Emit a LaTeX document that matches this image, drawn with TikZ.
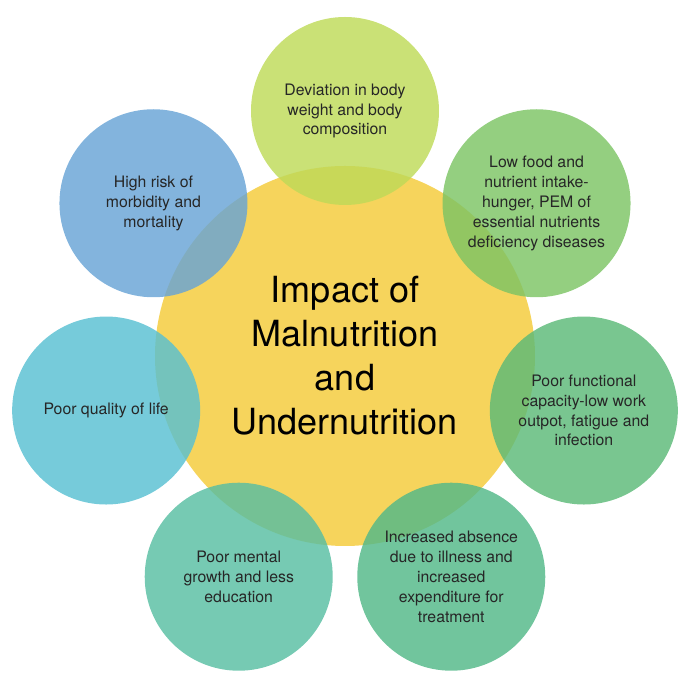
\documentclass[tikz,border=0pt]{standalone}
\usepackage{fontspec}
\setmainfont{TeX Gyre Heros}
\usetikzlibrary{positioning}

\definecolor{hubyellow}{RGB}{246,212,92}
\definecolor{satlime}{RGB}{190,218,88}
\definecolor{satgreen}{RGB}{124,196,100}
\definecolor{satmint}{RGB}{92,186,120}
\definecolor{satsea}{RGB}{82,184,136}
\definecolor{satteal}{RGB}{88,190,162}
\definecolor{satcyan}{RGB}{88,192,210}
\definecolor{satblue}{RGB}{104,164,214}

\tikzset{
    hub/.style={circle, fill=hubyellow, minimum size=7.6cm, align=center,
        font=\fontsize{20.5}{25}\selectfont},
    sat/.style={circle, minimum size=3.76cm, fill opacity=0.82, text opacity=1,
        align=center, text=black!85, font=\fontsize{9}{11.3}\selectfont}
}

\begin{document}
\begin{tikzpicture}

    % canvas
    \useasboundingbox (0,0) rectangle (13.70,13.66);

    % -------------------------------------------------------------
    % CENTRE
    % -------------------------------------------------------------
    \node[hub] (hub) at (6.90,6.54) {Impact of\\Malnutrition\\and\\Undernutrition};

    % -------------------------------------------------------------
    % SATELLITES (clockwise from the top)
    % -------------------------------------------------------------
    \node[sat, fill=satlime] (weight) at ([shift={(90:4.9)}]hub.center)
        {Deviation in body\\weight and body\\composition};
    \node[sat, fill=satgreen] (intake) at ([shift={(38.57:4.9)}]hub.center)
        {Low food and\\nutrient intake-\\hunger, PEM of\\essential nutrients\\deficiency diseases};
    \node[sat, fill=satmint] (capacity) at ([shift={(-12.86:4.9)}]hub.center)
        {Poor functional\\capacity-low work\\outpot, fatigue and\\infection};
    \node[sat, fill=satsea] (absence) at ([shift={(-64.29:4.9)}]hub.center)
        {Increased absence\\due to illness and\\increased\\expenditure for\\treatment};
    \node[sat, fill=satteal] (mental) at ([shift={(-115.71:4.9)}]hub.center)
        {Poor mental\\growth and less\\education};
    \node[sat, fill=satcyan] (quality) at ([shift={(-167.14:4.9)}]hub.center)
        {Poor quality of life};
    \node[sat, fill=satblue] (risk) at ([shift={(141.43:4.9)}]hub.center)
        {High risk of\\morbidity and\\mortality};

\end{tikzpicture}
\end{document}
